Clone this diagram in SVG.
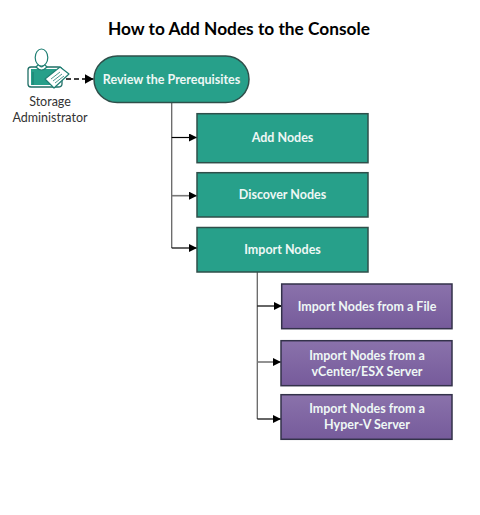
<svg xmlns="http://www.w3.org/2000/svg" width="480" height="515" viewBox="0 0 480 515">
<style>
text{font-family:"Lato","Open Sans","Liberation Sans",sans-serif;text-anchor:middle}
.t{font-size:12.500px;font-weight:700;fill:#eef7f5}
.g{fill:#27a08a;stroke:#2f4f4a;stroke-width:1.500}
.p{fill:url(#pg);stroke:#33324a;stroke-width:1.500}
.c{fill:none;stroke:#666;stroke-width:1.300}
.b{fill:none;stroke:#000;stroke-width:1.200;marker-end:url(#a)}
.i{stroke:#1f7f73;stroke-width:1.200;stroke-linejoin:round}
</style>
<defs>
<linearGradient id="pg" x1="0" y1="0" x2="0" y2="1"><stop offset="0" stop-color="#8a72ab"/><stop offset="1" stop-color="#765b9b"/></linearGradient>
<marker id="a" markerWidth="9" markerHeight="8" refX="8" refY="4" orient="auto" markerUnits="userSpaceOnUse"><path d="M0 0L8 4L0 8Z" fill="#000"/></marker>
<marker id="a2" markerWidth="10" markerHeight="10" refX="9" refY="5" orient="auto" markerUnits="userSpaceOnUse"><path d="M0 0L9 5L0 10Z" fill="#000"/></marker>
</defs>
<text x="239" y="35" style="font-size:17.300px;font-weight:700;fill:#000">How to Add Nodes to the Console</text>
<g id="connectors">
<path class="c" d="M171.700 103V248"/>
<path class="c" d="M257.300 272V419"/>
<path class="b" d="M171.700 137.500H197"/>
<path class="b" d="M171.700 195.700H197" style="stroke:#777;stroke-width:1.600"/>
<path class="b" d="M171.700 248H197"/>
<path class="b" d="M257.300 306H282"/>
<path class="b" d="M257.300 362H281" style="stroke:#777;stroke-width:1.600"/>
<path class="b" d="M257.300 419H281"/>
<path d="M66 79H84" fill="none" stroke="#000" stroke-width="1.500" stroke-dasharray="5 3"/>
<path d="M84 79H93.500" fill="none" stroke="#000" stroke-width="1.500" marker-end="url(#a2)"/>
</g>
<g id="storage-administrator">
<path d="M28 70Q28 67 31 67H58Q62 67 62 70V84Q62 87 58 87H31Q28 87 28 84Z" fill="#fff" stroke="#1f6f66" stroke-width="1.300"/>
<path d="M31 69H56V85H31Z" fill="#27a08a"/>
<path d="M33 72V85" stroke="#1b7a6c" stroke-width="1" fill="none"/>
<path class="i" d="M36 67L39 64V65Q41.500 69 44 65V64L47 67Q41.500 73 36 67Z" fill="#fff"/>
<ellipse class="i" cx="41.500" cy="57.500" rx="6.300" ry="8.500" fill="#fff"/>
<path class="i" d="M45 79L60 67L69 74L54 88Z" fill="#fff"/>
<path d="M51 79L60 72M53 81L62 74M55 83L64 76" stroke="#1f7f73" stroke-width="0.800" fill="none"/>
<text x="50" y="106" style="font-size:12.500px;fill:#333">Storage</text>
<text x="50" y="122" style="font-size:12.500px;fill:#333">Administrator</text>
</g>
<g id="review"><rect class="g" x="94" y="56" width="155" height="46.500" rx="23.250"/><text class="t" x="171.500" y="83.500">Review the Prerequisites</text></g>
<g id="add"><rect class="g" x="197" y="113.700" width="171" height="49"/><text class="t" x="282.500" y="142">Add Nodes</text></g>
<g id="discover"><rect class="g" x="197" y="172.700" width="171" height="44.300"/><text class="t" x="282.500" y="199">Discover Nodes</text></g>
<g id="import"><rect class="g" x="197" y="227.500" width="171" height="44.500"/><text class="t" x="282.500" y="254">Import Nodes</text></g>
<g id="file"><rect class="p" x="281.700" y="284" width="170.300" height="44.700"/><text class="t" x="367" y="310.500">Import Nodes from a File</text></g>
<g id="vcenter"><rect class="p" x="281" y="340.700" width="171" height="45"/><text class="t" x="367" y="359.500">Import Nodes from a</text><text class="t" x="367" y="375.500">vCenter/ESX Server</text></g>
<g id="hyperv"><rect class="p" x="281" y="394.700" width="171" height="44.600"/><text class="t" x="367" y="413">Import Nodes from a</text><text class="t" x="367" y="429">Hyper-V Server</text></g>
</svg>
